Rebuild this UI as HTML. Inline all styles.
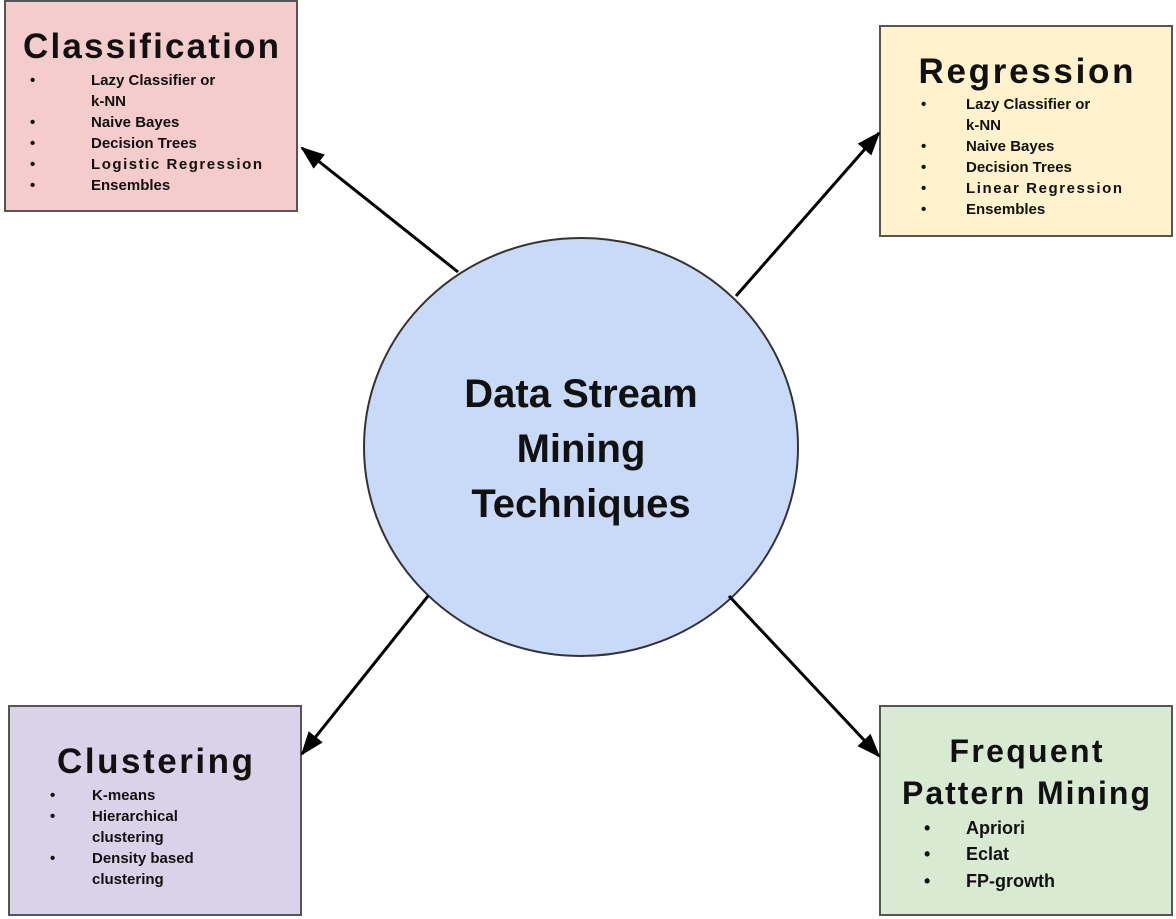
<!DOCTYPE html>
<html><head><meta charset="utf-8"><style>
html,body{margin:0;padding:0;background:#fff;}
svg{display:block;}
text{font-family:"Liberation Sans",Arial,sans-serif;font-weight:bold;fill:#111;}
.it{font-size:15px;fill:#222;}
.t{font-size:35px;}
.s{font-family:"Liberation Serif",serif;font-size:18px;}
</style></head><body>
<svg width="1176" height="919" viewBox="0 0 1176 919" xmlns="http://www.w3.org/2000/svg">
<defs><marker id="a" markerWidth="10" markerHeight="10" refX="9" refY="5" orient="auto" markerUnits="userSpaceOnUse" viewBox="0 0 10 10"><path d="M0,0 L10,5 L0,10 z" fill="#000"/></marker>
<marker id="b" markerWidth="24" markerHeight="24" refX="22" refY="12" orient="auto" markerUnits="userSpaceOnUse" viewBox="0 0 24 24"><path d="M0,3 L24,12 L0,21 z" fill="#000"/></marker></defs>

<rect x="5" y="1" width="292" height="210" fill="#f4cccc" stroke="#555" stroke-width="2"/>
<rect x="880" y="26" width="292" height="210" fill="#fff2cc" stroke="#555" stroke-width="2"/>
<rect x="9" y="706" width="292" height="209" fill="#d9d2e9" stroke="#555" stroke-width="2"/>
<rect x="880" y="706" width="292" height="209" fill="#d9ead3" stroke="#555" stroke-width="2"/>

<ellipse cx="581" cy="447" rx="217" ry="209" fill="#c9daf8" stroke="#333" stroke-width="2"/>

<line x1="458" y1="272" x2="302" y2="148" stroke="#000" stroke-width="3" marker-end="url(#b)"/>
<line x1="736" y1="296" x2="879" y2="133" stroke="#000" stroke-width="3" marker-end="url(#b)"/>
<line x1="428" y1="596" x2="302" y2="754" stroke="#000" stroke-width="3" marker-end="url(#b)"/>
<line x1="729" y1="596" x2="879" y2="756" stroke="#000" stroke-width="3" marker-end="url(#b)"/>

<g text-anchor="middle" style="font-size:40px">
<text x="581" y="407">Data Stream</text>
<text x="581" y="462">Mining</text>
<text x="581" y="517">Techniques</text>
</g>

<text class="t" x="151" y="58" text-anchor="middle" textLength="256">Classification</text>
<g class="it">
<text x="30" y="85">•</text><text x="91" y="85">Lazy Classifier or</text>
<text x="91" y="106">k-NN</text>
<text x="30" y="127">•</text><text x="91" y="127">Naive Bayes</text>
<text x="30" y="148">•</text><text x="91" y="148">Decision Trees</text>
<text x="30" y="169">•</text><text x="91" y="169" textLength="171">Logistic Regression</text>
<text x="30" y="190">•</text><text x="91" y="190">Ensembles</text>
</g>

<text class="t" x="1026" y="83" text-anchor="middle" textLength="215">Regression</text>
<g class="it">
<text x="921" y="109">•</text><text x="966" y="109">Lazy Classifier or</text>
<text x="966" y="130">k-NN</text>
<text x="921" y="151">•</text><text x="966" y="151">Naive Bayes</text>
<text x="921" y="172">•</text><text x="966" y="172">Decision Trees</text>
<text x="921" y="193">•</text><text x="966" y="193" textLength="156">Linear Regression</text>
<text x="921" y="214">•</text><text x="966" y="214">Ensembles</text>
</g>

<text class="t" x="155" y="773" text-anchor="middle" textLength="196">Clustering</text>
<g class="it">
<text x="50" y="800">•</text><text x="92" y="800">K-means</text>
<text x="50" y="821">•</text><text x="92" y="821">Hierarchical</text>
<text x="92" y="842">clustering</text>
<text x="50" y="863">•</text><text x="92" y="863">Density based</text>
<text x="92" y="884">clustering</text>
</g>

<text x="1026" y="762" text-anchor="middle" style="font-size:32px" textLength="153">Frequent</text>
<text x="1026" y="804" text-anchor="middle" style="font-size:32px" textLength="248">Pattern Mining</text>
<g class="s">
<text x="924" y="834">•</text><text x="966" y="834">Apriori</text>
<text x="924" y="860">•</text><text x="966" y="860">Eclat</text>
<text x="924" y="887">•</text><text x="966" y="887">FP-growth</text>
</g>
</svg>
</body></html>
